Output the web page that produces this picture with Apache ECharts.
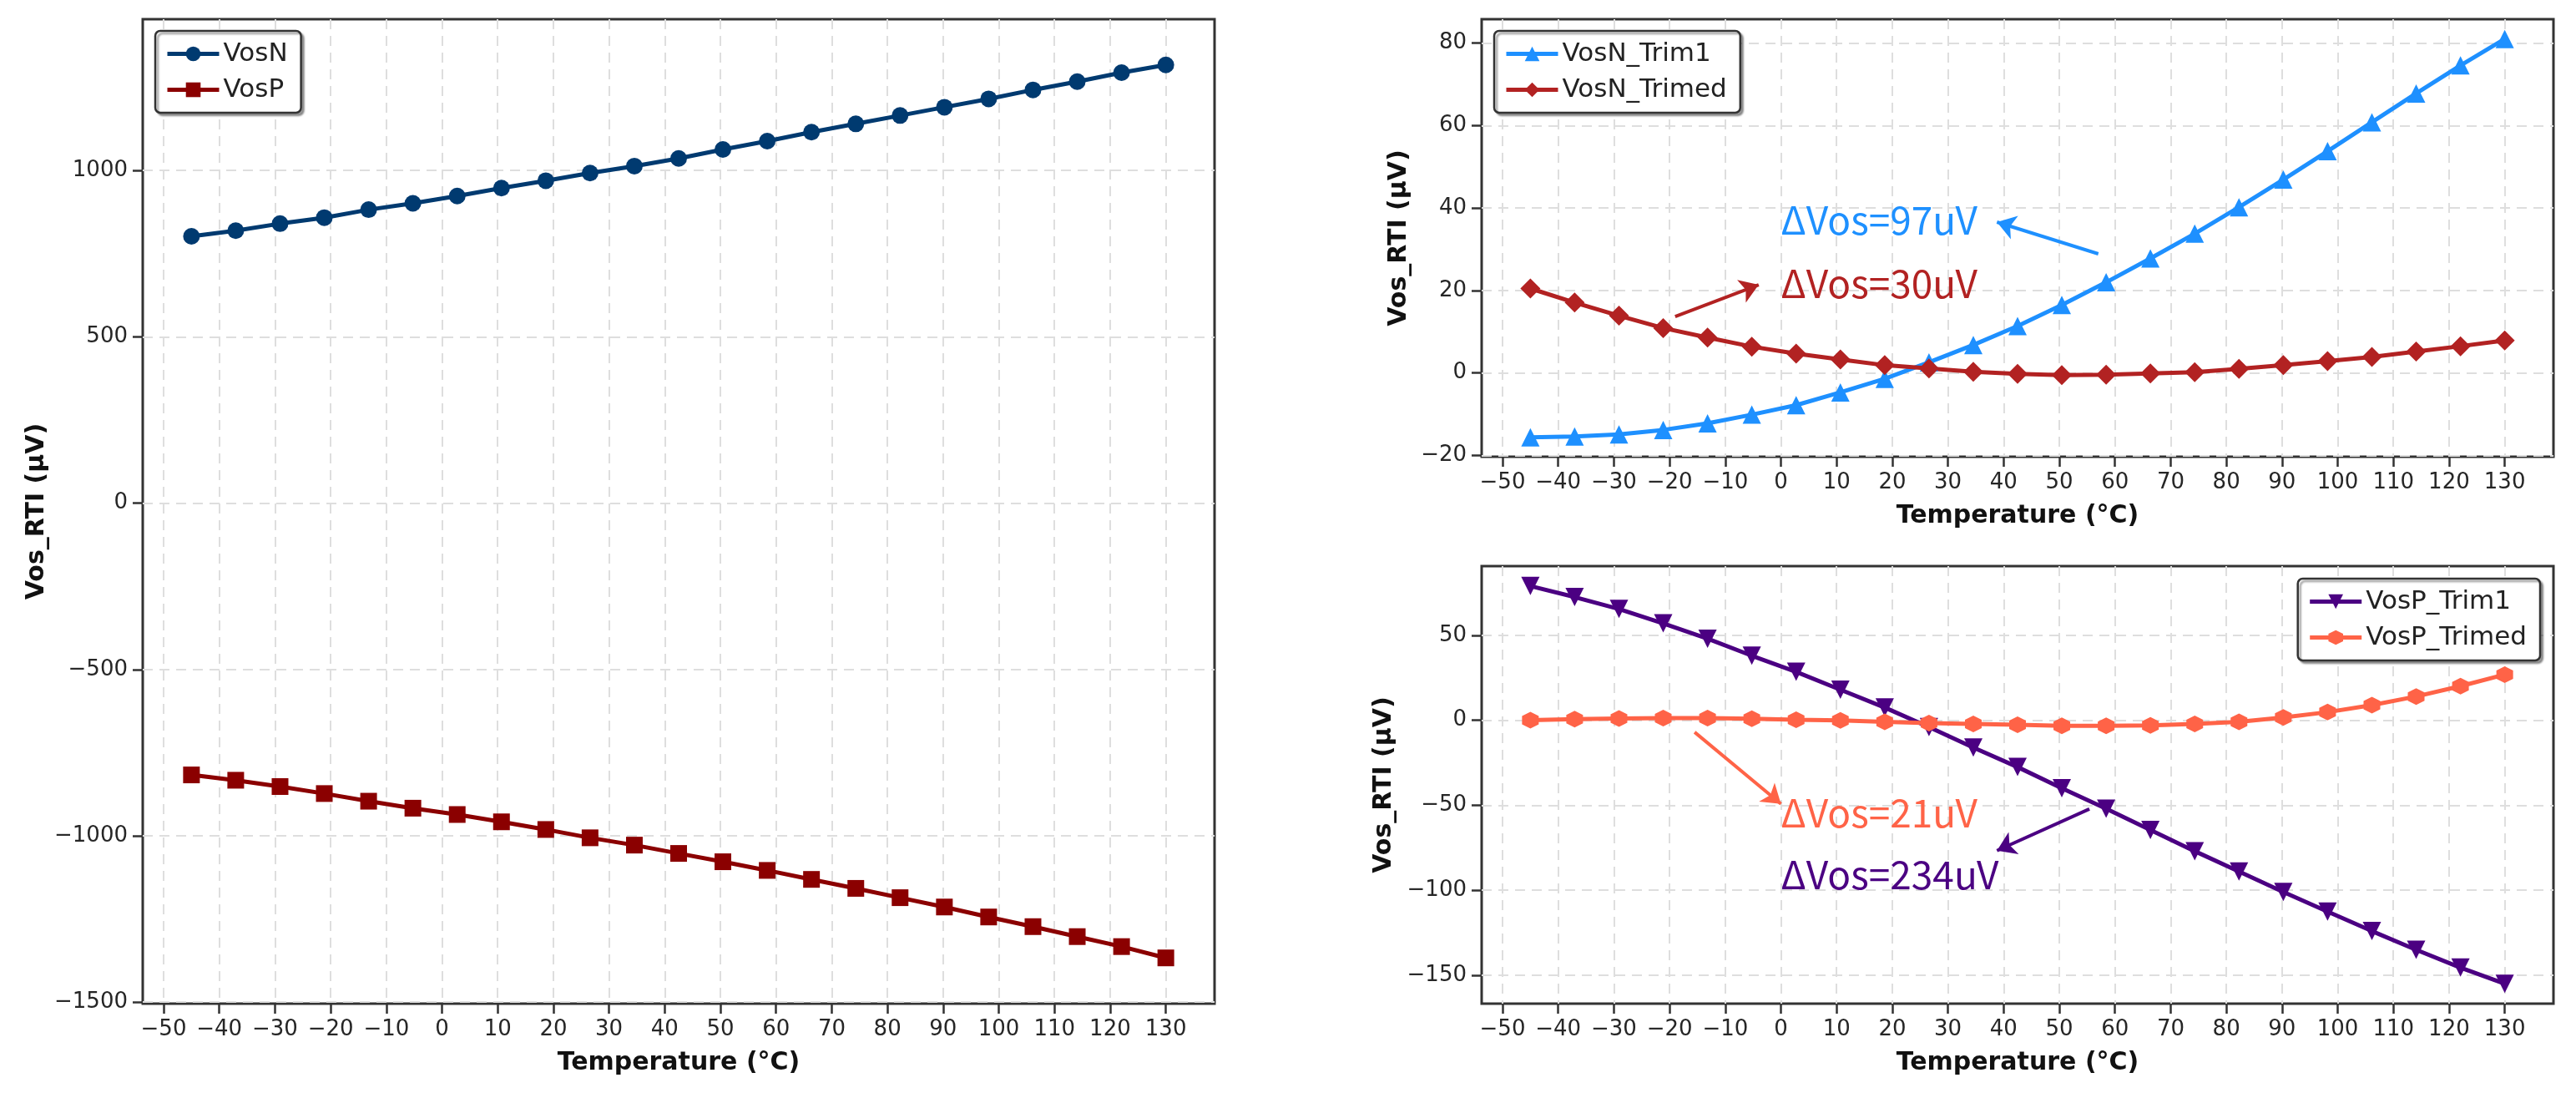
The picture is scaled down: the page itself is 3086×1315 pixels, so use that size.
<!DOCTYPE html>
<html>
<head>
<meta charset="utf-8">
<script src="https://cdn.jsdelivr.net/npm/echarts@6/dist/echarts.min.js"></script>
<style>
  html, body { margin: 0; padding: 0; background: #fff; }
  #chart { width: 3086px; height: 1315px; }
</style>
</head>
<body>
<div id="chart"></div>
<script>
// temperature points (°C)
const temps = [-45, -37.05, -29.09, -21.14, -13.18, -5.23, 2.73, 10.68, 18.64, 26.59, 34.55, 42.5,
  50.45, 58.41, 66.36, 74.32, 82.27, 90.23, 98.18, 106.14, 114.09, 122.05, 130];

// left chart
const vosN = [802, 819, 840, 858, 882, 901, 923, 947, 969, 992, 1013, 1036, 1063, 1088, 1115, 1140,
  1165, 1190, 1215, 1242, 1267, 1294, 1317];
const vosP = [-817, -833, -852, -873, -896, -917, -936, -958, -981, -1006, -1028, -1053, -1078, -1104,
  -1131, -1158, -1186, -1214, -1244, -1273, -1303, -1333, -1367];

// top right
const vosNTrim1 = [-15.6, -15.4, -14.9, -13.8, -12.2, -10.1, -7.8, -4.7, -1.4, 2.6, 6.8, 11.4, 16.5,
  22, 27.8, 33.8, 40.2, 46.9, 53.8, 60.8, 67.8, 74.6, 81];
const vosNTrimed = [20.5, 17.1, 13.9, 10.9, 8.6, 6.4, 4.7, 3.3, 1.9, 1.1, 0.3, -0.2, -0.5, -0.4, -0.1,
  0.2, 1.0, 1.9, 2.9, 3.9, 5.2, 6.5, 7.9];

// bottom right
const vosPTrim1 = [79, 72.5, 65.5, 57, 48, 38, 28.5, 18, 7.5, -4, -16, -27.5, -40, -52, -64.5, -77,
  -89, -101, -112.5, -124, -135, -145.5, -155];
const vosPTrimed = [0.1, 0.7, 1.1, 1.3, 1.3, 0.9, 0.3, -0.1, -0.9, -1.7, -2.1, -2.6, -3.2, -3.2, -3.0,
  -2.1, -0.9, 1.7, 4.8, 8.9, 14, 20.1, 26.9];

// tick values
const xTicks = [-50, -40, -30, -20, -10, 0, 10, 20, 30, 40, 50, 60, 70, 80, 90, 100, 110, 120, 130];
const yTicksLeft = [-1500, -1000, -500, 0, 500, 1000];
const yTicksTop = [-20, 0, 20, 40, 60, 80];
const yTicksBottom = [-150, -100, -50, 0, 50];

// annotations: text, text anchor, arrow tail, arrow head (data coords)
const annoTop = [
  { text: 'ΔVos=97uV', at: [0, 37], from: [57, 28.9], to: [38.8, 36.6], color: '#1e90ff' },
  { text: 'ΔVos=30uV', at: [0, 21.8], from: [-19, 13.7], to: [-4, 21.4], color: '#b22222' }
];
const annoBottom = [
  { text: 'ΔVos=21uV', at: [0, -54.6], from: [-15.5, -7], to: [0, -49.2], color: '#ff6347' },
  { text: 'ΔVos=234uV', at: [0, -91], from: [55.4, -52.2], to: [38.8, -76.7], color: '#4b0082' }
];

const FONT = 'DejaVu Sans';
const minus = v => String(v).replace('-', '\u2212');
const pairs = ys => temps.map((t, i) => [t, ys[i]]);

function xAxisCfg(gridIndex) {
  return {
    type: 'value', gridIndex, min: -53.75, max: 138.75,
    name: 'Temperature (°C)', nameLocation: 'middle', nameGap: 56,
    nameTextStyle: { fontFamily: FONT, fontSize: 30, fontWeight: 'bold', color: '#111' },
    axisLine: { show: false, onZero: false },
    axisTick: { show: true, customValues: xTicks, length: 12, lineStyle: { color: '#333', width: 2.5 } },
    axisLabel: { customValues: xTicks, margin: 18, fontFamily: FONT, fontSize: 26, color: '#262626', formatter: minus },
    splitLine: { show: true, lineStyle: { color: '#dedede', width: 2, type: [12, 8] } }
  };
}

function yAxisCfg(gridIndex, min, max, ticks, gap) {
  return {
    type: 'value', gridIndex, min, max,
    name: 'Vos_RTI (μV)', nameLocation: 'middle', nameGap: gap, nameRotate: 90,
    nameTextStyle: { fontFamily: FONT, fontSize: 30, fontWeight: 'bold', color: '#111' },
    axisLine: { show: false, onZero: false },
    axisTick: { show: true, customValues: ticks, length: 12, lineStyle: { color: '#333', width: 2.5 } },
    axisLabel: { customValues: ticks, margin: 18, fontFamily: FONT, fontSize: 26, color: '#262626', formatter: minus },
    splitLine: { show: true, lineStyle: { color: '#dedede', width: 2, type: [12, 8] } }
  };
}

function lineSeries(name, data, color, symbol, axisIdx, extra) {
  return Object.assign({
    name, type: 'line', xAxisIndex: axisIdx, yAxisIndex: axisIdx,
    data: pairs(data), symbol, symbolSize: 20, showAllSymbol: true,
    lineStyle: { color, width: 5 }, itemStyle: { color }
  }, extra || {});
}

function annoMarks(list) {
  return {
    markLine: {
      silent: true, symbol: ['none', 'arrow'], symbolSize: 22, label: { show: false },
      data: list.map(a => [
        { coord: a.from, lineStyle: { color: a.color, width: 4, type: 'solid' } },
        { coord: a.to }
      ])
    },
    markPoint: {
      silent: true, symbol: 'circle', symbolSize: 1, itemStyle: { color: 'rgba(0,0,0,0)' },
      data: list.map(a => ({
        coord: a.at,
        label: {
          show: true, position: 'inside', align: 'left', verticalAlign: 'middle',
          formatter: a.text, color: a.color, fontFamily: 'Noto Sans CJK SC', fontSize: 46
        }
      }))
    }
  };
}

const legendBase = {
  orient: 'vertical', itemWidth: 62, itemHeight: 22, itemGap: 12,
  padding: [12, 16, 12, 12], borderColor: '#333', borderWidth: 2.5, borderRadius: 6,
  backgroundColor: '#fff', shadowColor: 'rgba(0,0,0,0.35)', shadowOffsetX: 3, shadowOffsetY: 3, shadowBlur: 2,
  lineStyle: { width: 5 },
  textStyle: { fontFamily: FONT, fontSize: 31, color: '#222' }
};

const hexagon = 'path://M0,-10 L8.66,-5 L8.66,5 L0,10 L-8.66,5 L-8.66,-5 Z';

const chart = echarts.init(document.getElementById('chart'));
chart.setOption({
  animation: false,
  backgroundColor: '#fff',
  grid: [
    { left: 171, top: 23, width: 1284, height: 1179, show: true, borderColor: '#333', borderWidth: 3, backgroundColor: 'transparent' },
    { left: 1775, top: 23, width: 1284, height: 524, show: true, borderColor: '#333', borderWidth: 3, backgroundColor: 'transparent' },
    { left: 1775, top: 678, width: 1284, height: 524, show: true, borderColor: '#333', borderWidth: 3, backgroundColor: 'transparent' }
  ],
  legend: [
    Object.assign({}, legendBase, { left: 186, top: 37, data: ['VosN', 'VosP'] }),
    Object.assign({}, legendBase, { left: 1790, top: 37, data: ['VosN_Trim1', 'VosN_Trimed'] }),
    Object.assign({}, legendBase, { right: 43, top: 693, data: ['VosP_Trim1', 'VosP_Trimed'] })
  ],
  xAxis: [xAxisCfg(0), xAxisCfg(1), xAxisCfg(2)],
  yAxis: [
    yAxisCfg(0, -1504.5, 1454.5, yTicksLeft, 112),
    yAxisCfg(1, -20.3, 85.8, yTicksTop, 84),
    yAxisCfg(2, -166.7, 90.7, yTicksBottom, 102)
  ],
  series: [
    lineSeries('VosN', vosN, '#003a70', 'circle', 0),
    lineSeries('VosP', vosP, '#8b0000', 'rect', 0),
    lineSeries('VosN_Trim1', vosNTrim1, '#1e90ff', 'triangle', 1, Object.assign({ symbolSize: 22 }, annoMarks(annoTop))),
    lineSeries('VosN_Trimed', vosNTrimed, '#b22222', 'diamond', 1, { symbolSize: 24 }),
    lineSeries('VosP_Trim1', vosPTrim1, '#4b0082', 'triangle', 2, Object.assign({ symbolSize: 22, symbolRotate: 180 }, annoMarks(annoBottom))),
    lineSeries('VosP_Trimed', vosPTrimed, '#ff6347', hexagon, 2)
  ]
});
</script>
</body>
</html>
